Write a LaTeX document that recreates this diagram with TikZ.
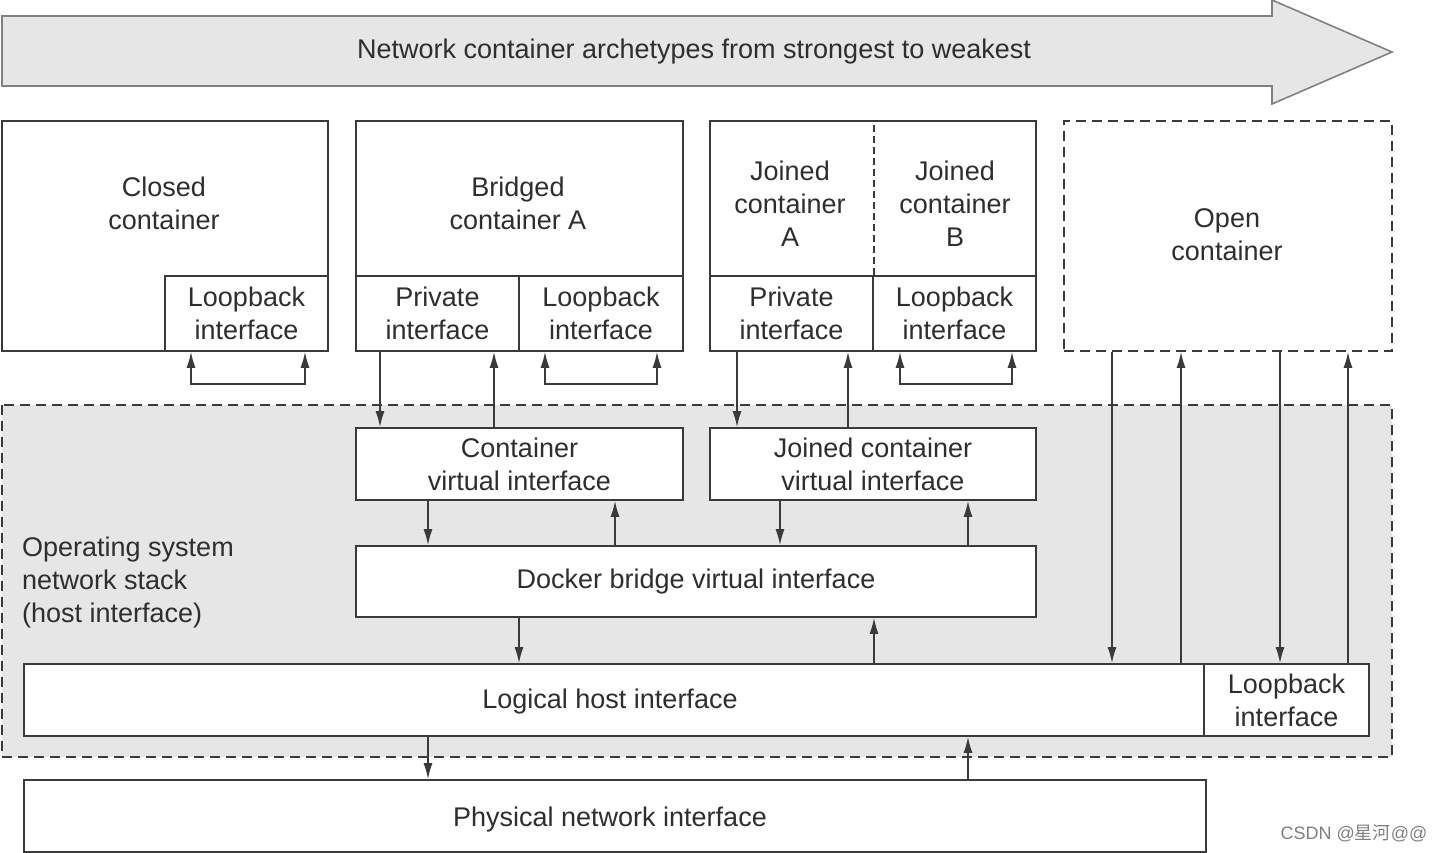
\documentclass[tikz,border=0pt]{standalone}
\usepackage{fontspec}
\setmainfont{Liberation Sans}
\newfontfamily\cjkfont{Noto Sans CJK SC}
\usetikzlibrary{arrows.meta}
\definecolor{linegray}{HTML}{3A3A3A}
\definecolor{textgray}{HTML}{2E2E2E}
\definecolor{fillgray}{HTML}{E6E6E6}
\tikzset{box/.style={rectangle, draw=linegray, line width=1.6pt, fill=white, inner sep=0pt,
      text=textgray, align=center, font=\fontsize{27}{33}\selectfont}}
\tikzset{lbl/.style={inner sep=0pt, text=textgray, align=center, font=\fontsize{27}{33}\selectfont}}
\tikzset{dashbox/.style={draw=linegray, line width=1.6pt, dash pattern=on 10pt off 6pt}}
\tikzset{flow/.style={draw=linegray, line width=1.6pt, -{Latex[length=16pt,width=9pt]}}}
\tikzset{loop/.style={draw=linegray, line width=1.6pt, {Latex[length=16pt,width=9pt]}-{Latex[length=16pt,width=9pt]}}}

\begin{document}
\begin{tikzpicture}[x=1pt,y=-1pt]
		\useasboundingbox (0,0) rectangle (1442,853);
		\fill[white] (0,0) rectangle (1442,853);
		\draw[draw=gray, line width=1.6pt, fill=fillgray] (2,16) -- (1272,16) -- (1272,0) -- (1392,52) -- (1272,104) -- (1272,86) -- (2,86) -- cycle;
		\node[lbl] (title) at (694,52) {Network container archetypes from strongest to weakest};
		\draw[dashbox, fill=fillgray] (2,405) rectangle (1392,757);
		\node[lbl, anchor=west, align=left] (osstack) at (22,583) {Operating system\\network stack\\(host interface)};
		\node[box, minimum width=326pt, minimum height=230pt] (closed) at (165,236) {};
		\node[box, minimum width=163pt, minimum height=75pt] (closedlo) at (246.5,313.5) {Loopback\\interface};
		\node[lbl] (closedtxt) at (164,203) {Closed\\container};
		\node[box, minimum width=327pt, minimum height=230pt] (bridged) at (519.5,236) {};
		\node[box, minimum width=163pt, minimum height=75pt] (privA) at (437.5,313.5) {Private\\interface};
		\node[box, minimum width=164pt, minimum height=75pt] (loA) at (601,313.5) {Loopback\\interface};
		\node[lbl] (bridgedtxt) at (518,203) {Bridged\\container A};
		\node[box, minimum width=326pt, minimum height=230pt] (joined) at (873,236) {};
		\node[box, minimum width=163pt, minimum height=75pt] (privJ) at (791.5,313.5) {Private\\interface};
		\node[box, minimum width=163pt, minimum height=75pt] (loJ) at (954.5,313.5) {Loopback\\interface};
		\draw[draw=linegray, line width=1.4pt, dash pattern=on 7pt off 4pt] (privJ.north east) -- (joined.north -| privJ.north east);
		\node[lbl] (joinedA) at (790,204) {Joined\\container\\A};
		\node[lbl] (joinedB) at (955,204) {Joined\\container\\B};
		\node[lbl, dashbox, fill=white, minimum width=328pt, minimum height=230pt] (open) at (1228,236) {};
		\node[lbl] (opentxt) at (1227,235) {Open\\container};
		\node[box, minimum width=327pt, minimum height=72pt] (cvi) at (519.5,464) {Container\\virtual interface};
		\node[box, minimum width=326pt, minimum height=72pt] (jvi) at (873,464) {Joined container\\virtual interface};
		\node[box, minimum width=680pt, minimum height=71pt] (dbvi) at (696,581.5) {Docker bridge virtual interface};
		\node[box, minimum width=1180pt, minimum height=72pt] (lhi) at (614,700) {};
		\node[lbl] (lhitxt) at (610,702) {Logical host interface};
		\node[box, minimum width=165pt, minimum height=72pt] (hostlo) at (1286.5,700) {Loopback\\interface};
		\node[box, minimum width=1182pt, minimum height=72pt] (pni) at (615,816) {};
		\node[lbl] (pnitxt) at (610,820) {Physical network interface};
		\draw[loop] (closedlo.south -| 191,0) -- ++(0,32) -| (closedlo.south -| 305,0);
		\draw[loop] (loA.south -| 545,0) -- ++(0,32) -| (loA.south -| 657,0);
		\draw[loop] (loJ.south -| 900,0) -- ++(0,32) -| (loJ.south -| 1012,0);
		\draw[flow] (privA.south -| 380,0) -- (cvi.north -| 380,0);
		\draw[flow] (cvi.north -| 494,0) -- (privA.south -| 494,0);
		\draw[flow] (privJ.south -| 737,0) -- (jvi.north -| 737,0);
		\draw[flow] (jvi.north -| 848,0) -- (privJ.south -| 848,0);
		\draw[flow] (cvi.south -| 428,0) -- (dbvi.north -| 428,0);
		\draw[flow] (dbvi.north -| 615,0) -- (cvi.south -| 615,0);
		\draw[flow] (jvi.south -| 780,0) -- (dbvi.north -| 780,0);
		\draw[flow] (dbvi.north -| 968,0) -- (jvi.south -| 968,0);
		\draw[flow] (dbvi.south -| 519,0) -- (lhi.north -| 519,0);
		\draw[flow] (lhi.north -| 874,0) -- (dbvi.south -| 874,0);
		\draw[flow] (lhi.south -| 428,0) -- (pni.north -| 428,0);
		\draw[flow] (pni.north -| 968,0) -- (lhi.south -| 968,0);
		\draw[flow] (open.south -| 1112,0) -- (lhi.north -| 1112,0);
		\draw[flow] (lhi.north -| 1181,0) -- (open.south -| 1181,0);
		\draw[flow] (open.south -| 1280,0) -- (hostlo.north -| 1280,0);
		\draw[flow] (hostlo.north -| 1348,0) -- (open.south -| 1348,0);
		\node[inner sep=0pt, text=gray, font=\fontsize{18}{20}\selectfont] (mark) at (1354,833) {CSDN @{\cjkfont 星河}@@};
\end{tikzpicture}
\end{document}
